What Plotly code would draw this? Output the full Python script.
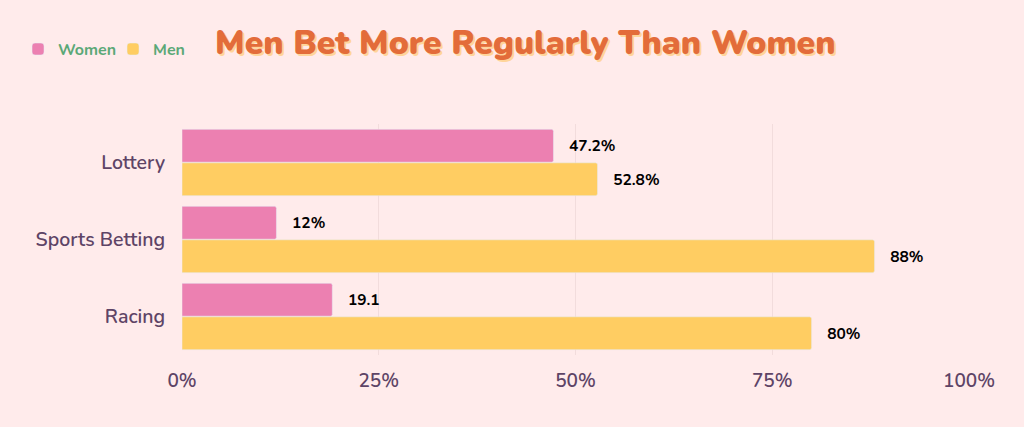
import plotly.graph_objects as go

categories = ["Lottery", "Sports Betting", "Racing"]
women = [47.2, 12, 19.1]
men = [52.8, 88, 80]
women_labels = ["47.2%", "12%", "19.1"]
men_labels = ["52.8%", "88%", "80%"]
tick_vals = [0, 25, 50, 75, 100]
tick_text = ["0%", "25%", "50%", "75%", "100%"]

BG = "#FFEBEB"
FONT = "Nunito, Lato, sans-serif"
LABEL_FONT = dict(family=FONT, size=15.5, color="#000000", weight="bold")

fig = go.Figure()
fig.add_trace(go.Bar(
    name="Women", y=categories, x=women, orientation="h",
    marker=dict(color="#EC80B1"),
    text=women_labels, textposition="outside", cliponaxis=False,
    texttemplate="   %{text}", textfont=LABEL_FONT,
))
fig.add_trace(go.Bar(
    name="Men", y=categories, x=men, orientation="h",
    marker=dict(color="#FFCD62"),
    text=men_labels, textposition="outside", cliponaxis=False,
    texttemplate="   %{text}", textfont=LABEL_FONT,
))

fig.update_layout(
    width=1024, height=427,
    paper_bgcolor=BG, plot_bgcolor=BG,
    barmode="group", bargap=0.13, bargroupgap=0.02,
    barcornerradius=2,
    margin=dict(l=182, r=55, t=124, b=72),
    title=dict(
        text="Men Bet More Regularly Than Women",
        x=0.513, xanchor="center", y=0.902, yanchor="middle",
        font=dict(family=FONT, size=33.5, color="#E36C3A", weight=900,
                  shadow="2px 2px 0px #FFD59A"),
    ),
    legend=dict(
        orientation="h", x=0.0176, xanchor="left", y=0.885, yanchor="middle",
        xref="container", yref="container",
        font=dict(family=FONT, size=16, color="#5BA877", weight="bold"),
        bgcolor="rgba(0,0,0,0)", entrywidthmode="pixels", entrywidth=50,
        traceorder="normal",
    ),
    showlegend=True,
    xaxis=dict(
        range=[0, 100], tickvals=tick_vals, ticktext=tick_text,
        showgrid=True, gridcolor="#F2DCDC", gridwidth=1,
        zeroline=False, showline=False,
        tickfont=dict(family=FONT, size=19, color="#5E4466", weight=600),
        ticks="outside", ticklen=8, tickcolor="rgba(0,0,0,0)",
    ),
    yaxis=dict(
        autorange="reversed", showgrid=False, zeroline=False, showline=False,
        tickfont=dict(family=FONT, size=19.5, color="#5E4466", weight=600),
        ticks="outside", ticklen=12, tickcolor="rgba(0,0,0,0)",
    ),
)

fig.write_html("out.html")
